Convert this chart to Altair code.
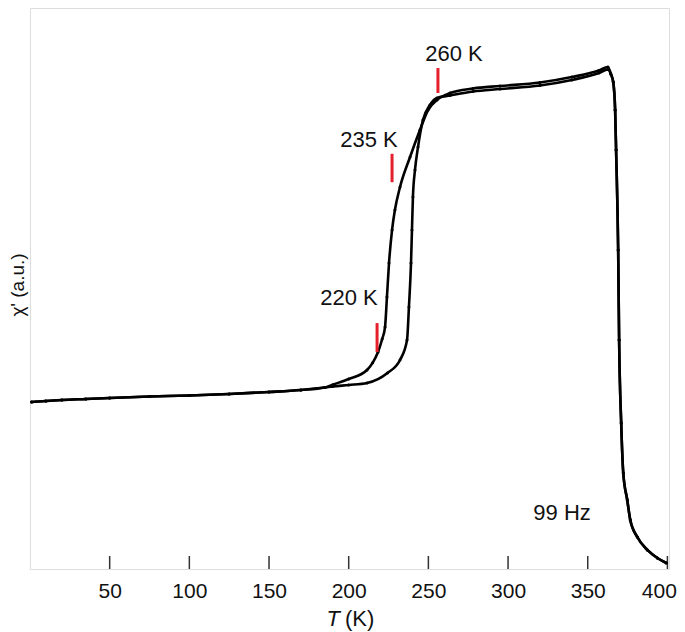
import altair as alt
import pandas as pd

# ---- data ----
shared_low_T = [1, 10, 20, 35, 50, 75, 100, 125, 150, 170, 185]
shared_low_chi = [29.40, 29.58, 29.75, 29.93, 30.11, 30.37, 30.55, 30.81, 31.16, 31.51, 31.95]

cool_T = [190, 200, 211.5, 215, 218.4, 221, 222.8, 224.0, 225.3, 227.2, 229.0, 232.2,
          238.5, 244.7, 249.8, 255.4, 263.6, 278, 295, 320, 340, 357, 362.7]
cool_chi = [32.45, 33.45, 35.04, 36.3, 38.20, 40.5, 42.6, 47.89, 53.87, 59.68, 63.20, 67.25,
            72.54, 77.29, 80.81, 82.57, 83.80, 84.60, 85.04, 85.65, 86.62, 87.76, 88.38]

heat_T = [190, 200, 211.5, 224.3, 232.2, 236.6, 237.8, 239.1, 239.7, 240.3, 241.6, 243.5,
          246.6, 251.0, 255.4, 263.6, 278, 295, 320, 340, 357, 362.7]
heat_chi = [32.13, 32.39, 32.75, 34.51, 36.80, 40.32, 46.13, 53.87, 59.68, 65.49, 70.25, 74.30,
            79.05, 81.69, 82.92, 83.36, 84.07, 84.51, 85.12, 86.09, 87.32, 87.94]

shared_high_T = [364.5, 366.0, 367.2, 367.8, 369.1, 369.7, 371.0, 372.3, 374.8, 376.7,
                 381.1, 387.4, 393.7, 399.3]
shared_high_chi = [87.15, 85.74, 80.81, 73.77, 56.16, 40.32, 25.70, 16.90, 12.15, 8.63,
                   5.63, 3.35, 1.94, 1.06]

x_ticks = [50, 100, 150, 200, 250, 300, 350, 400]

ann_text = ["260 K", "235 K", "220 K", "99 Hz"]
ann_T = [266.1, 212.7, 200.2, 333.9]
ann_chi = [89.44, 74.35, 46.48, 8.63]

mark_T = [256.0, 227.2, 217.8]
mark_chi_top = [88.2, 73.1, 43.3]
mark_chi_bot = [83.8, 68.1, 38.2]

y_title = "χ' (a.u.)"

# ---- tables ----
rows = []
for branch, bT, bC in [("cooling", cool_T, cool_chi), ("heating", heat_T, heat_chi)]:
    Ts = shared_low_T + bT + shared_high_T
    Cs = shared_low_chi + bC + shared_high_chi
    for t, c in zip(Ts, Cs):
        rows.append({"branch": branch, "T": t, "chi": c})
curve = pd.DataFrame(rows)
ticks_df = pd.DataFrame({"T": x_ticks})
ann_df = pd.DataFrame({"label": ann_text, "T": ann_T, "chi": ann_chi})
marks_df = pd.DataFrame({"T": mark_T, "top": mark_chi_top, "bot": mark_chi_bot})
title_df = pd.DataFrame({"T": [194.5], "label": ["T"]})
title2_df = pd.DataFrame({"T": [197.7], "label": ["(K)"]})
ytitle_df = pd.DataFrame({"label": [y_title]})

FONT = "Liberation Sans"
W, H = 639, 561

xscale = alt.Scale(domain=[0, 401], nice=False, zero=False)
yscale = alt.Scale(domain=[0, 98.77], nice=False, zero=False)

x_enc = alt.X("T:Q", scale=xscale,
              axis=alt.Axis(values=x_ticks, ticks=False, tickSize=0, domain=False, grid=False,
                            labelFontSize=21, labelFont=FONT, labelColor="#111",
                            labelPadding=11, labelFlush=4, labelFlushOffset=9,
                            title=None))
y_enc = alt.Y("chi:Q", scale=yscale, axis=None)

lines = alt.Chart(curve).mark_line(color="black", strokeWidth=2.6, interpolate="monotone").encode(
    x=x_enc, y=y_enc, detail="branch:N", order="T:Q")

pts = alt.Chart(curve).mark_point(filled=True, color="black", size=9, opacity=1).encode(
    x=alt.X("T:Q", scale=xscale), y=alt.Y("chi:Q", scale=yscale))

tick_rules = alt.Chart(ticks_df).mark_rule(color="#333", strokeWidth=1.5).encode(
    x=alt.X("T:Q", scale=xscale), y=alt.value(H), y2=alt.value(H - 13))

red = alt.Chart(marks_df).mark_rule(color="#e3202b", strokeWidth=3).encode(
    x=alt.X("T:Q", scale=xscale), y=alt.Y("top:Q", scale=yscale), y2="bot:Q")

ann = alt.Chart(ann_df).mark_text(font=FONT, fontSize=22, color="#111", align="center",
                                  baseline="alphabetic").encode(
    x=alt.X("T:Q", scale=xscale), y=alt.Y("chi:Q", scale=yscale), text="label:N")

t1 = alt.Chart(title_df).mark_text(font=FONT, fontSize=22, fontStyle="italic", color="#111",
                                   align="right", baseline="alphabetic").encode(
    x=alt.X("T:Q", scale=xscale), y=alt.value(618), text="label:N")
t2 = alt.Chart(title2_df).mark_text(font=FONT, fontSize=22, color="#111",
                                    align="left", baseline="alphabetic").encode(
    x=alt.X("T:Q", scale=xscale), y=alt.value(618), text="label:N")

yt = alt.Chart(ytitle_df).mark_text(font=FONT, fontSize=19, color="#111", angle=270,
                                    align="center", baseline="middle").encode(
    x=alt.value(-12), y=alt.value(277), text="label:N")

chart = alt.layer(tick_rules, lines, pts, red, ann, t1, t2, yt).properties(
    width=W, height=H,
    autosize=alt.AutoSizeParams(type="none"),
    padding={"left": 22, "top": 0, "right": 8, "bottom": 62},
).configure_view(stroke="#333", strokeWidth=1.5).configure(background="white")

chart.save("out.html", embed_options={"renderer": "svg", "actions": False})
